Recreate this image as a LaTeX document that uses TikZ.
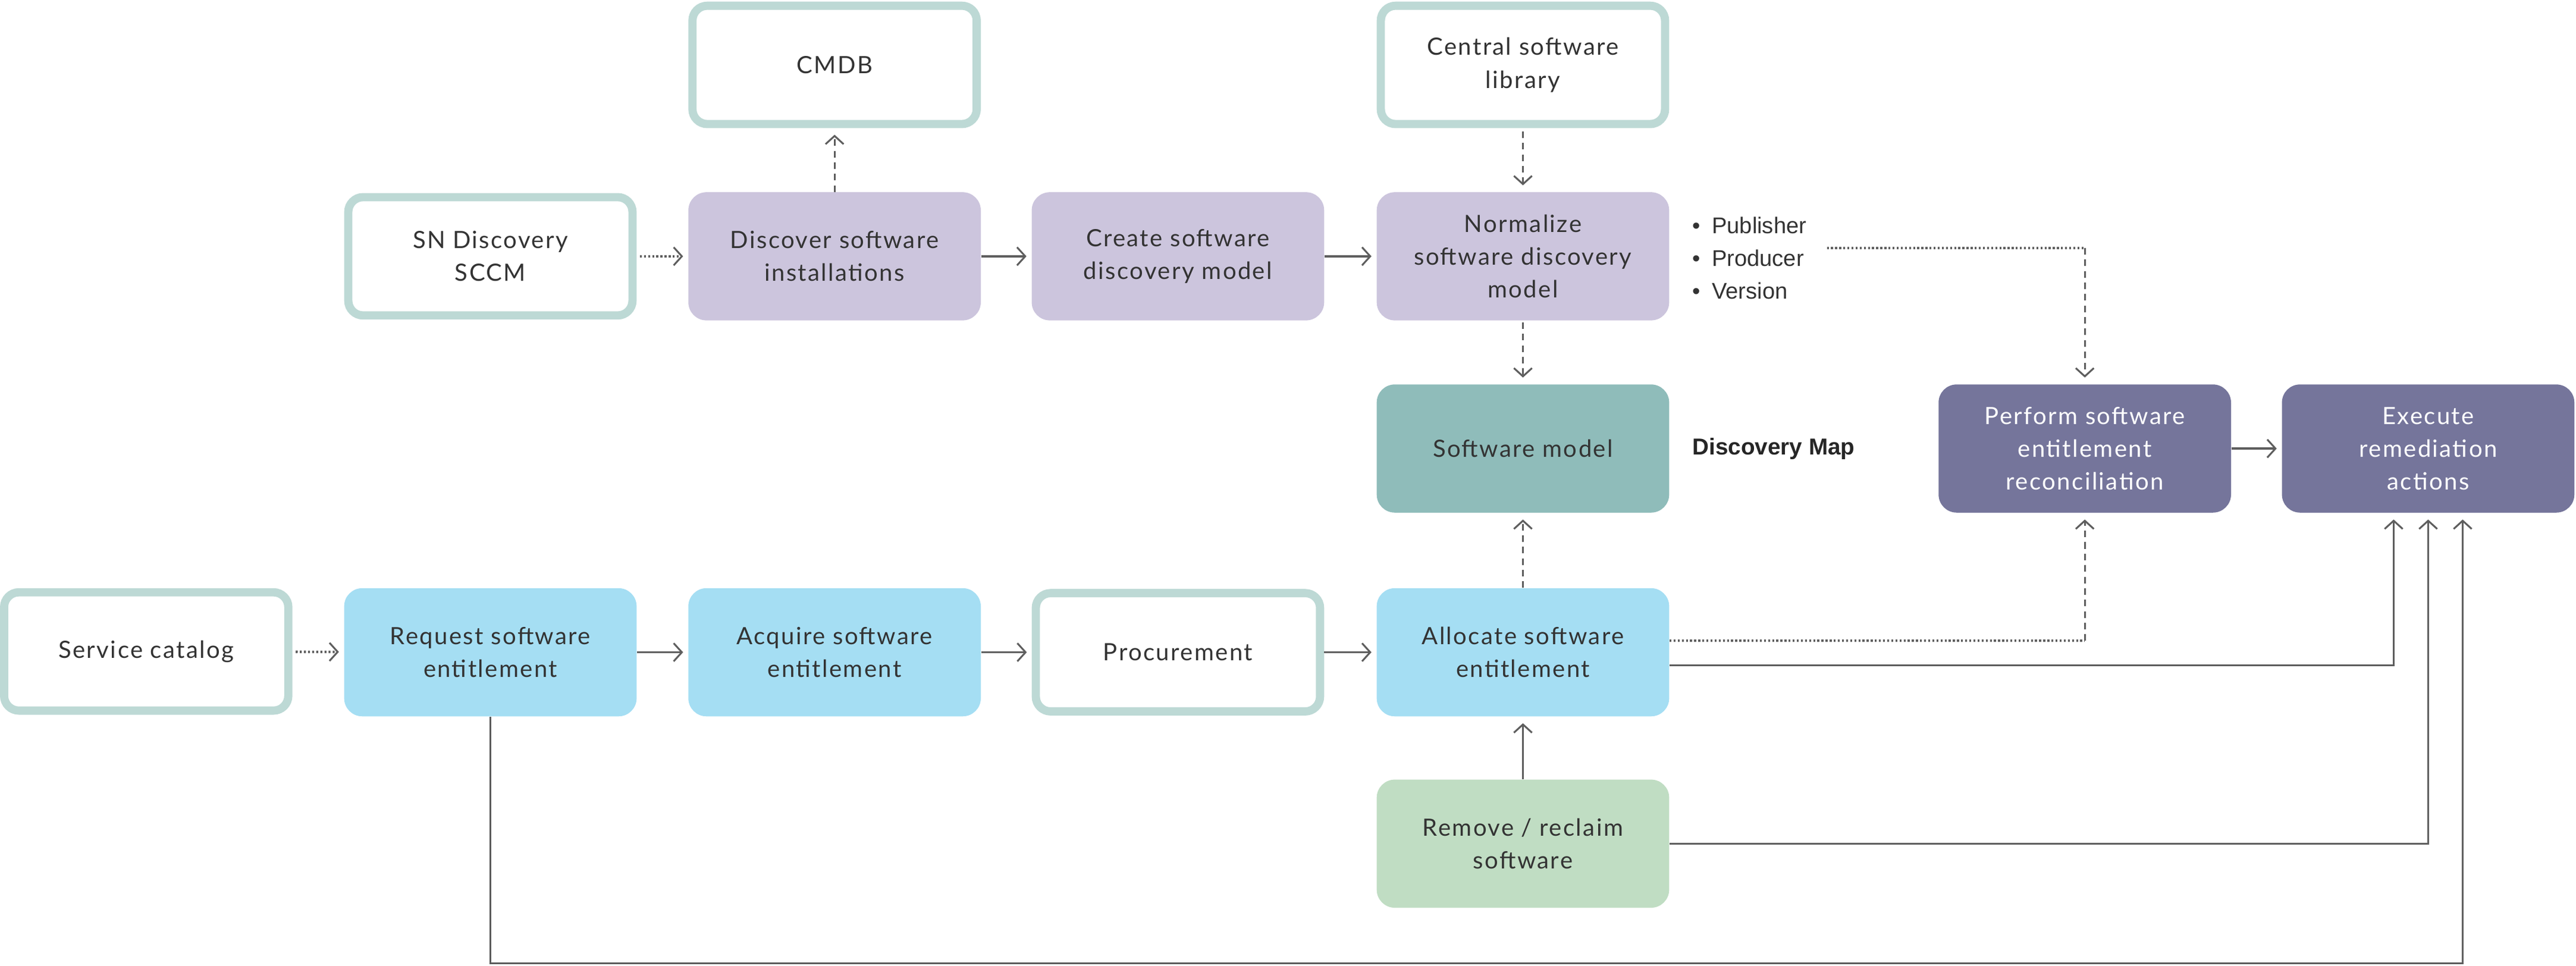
\documentclass[tikz,border=0pt]{standalone}
\usepackage{fontspec}
\setmainfont[LetterSpace=6]{Lato}
\newfontfamily\notefont{Liberation Sans}
\usetikzlibrary{arrows.meta}

\definecolor{edgeteal}{HTML}{BDD9D5}
\definecolor{discpurple}{HTML}{CCC5DD}
\definecolor{modelteal}{HTML}{8FBCBA}
\definecolor{reconpurple}{HTML}{75759B}
\definecolor{entblue}{HTML}{A5DEF3}
\definecolor{reclgreen}{HTML}{C0DDC3}
\definecolor{inkgray}{HTML}{333333}
\definecolor{linegray}{HTML}{5E5E5E}

\tikzset{
  boxtext/.style={align=center, inner sep=0pt, text=inkgray,
    font=\fontsize{14.5}{20}\selectfont},
  notetext/.style={inner sep=0pt, text=inkgray, anchor=west,
    font=\notefont\fontsize{13.8}{20}\selectfont},
  srcbox/.style={boxtext, draw=edgeteal, line width=5pt, fill=white,
    rounded corners=9pt, minimum width=173pt, minimum height=72pt},
  stepbox/.style={boxtext, rounded corners=11pt,
    minimum width=178pt, minimum height=78pt},
  flowtip/.style={-{Straight Barb[length=5pt,width=11pt,line width=1.1pt]}},
  solidline/.style={draw=linegray, line width=1.2pt},
  dotline/.style={draw=linegray, line width=1.5pt, dash pattern=on 1.2pt off 1.3pt},
  dashline/.style={draw=linegray, line width=1pt, dash pattern=on 4pt off 3pt},
}

\begin{document}
\begin{tikzpicture}[x=1pt,y=-1pt]
    \useasboundingbox (0,0) rectangle (1568,587.6);

    % Drawing sources (outlined boxes)
    \node [srcbox] (cmdb) at (508,39.5) {CMDB};
    \node [srcbox] (lib) at (927,39.5) {Central software\\library};
    \node [srcbox] (sn) at (298.5,156) {SN Discovery\\SCCM};
    \node [srcbox] (svc) at (89,396.5) {Service catalog};
    \node [srcbox] (proc) at (717,397) {Procurement};

    % Drawing discovery steps
    \node [stepbox, fill=discpurple] (disc) at (508,156) {Discover software\\installations};
    \node [stepbox, fill=discpurple] (create) at (717,156) {Create software\\discovery model};
    \node [stepbox, fill=discpurple] (norm) at (927,156) {Normalize\\software discovery\\model};
    \node [notetext, align=left] (bul) at (1030,157)
      {\textbullet\hspace{7pt}Publisher\\\textbullet\hspace{7pt}Producer\\\textbullet\hspace{7pt}Version};

    % Drawing software model and reconciliation
    \node [stepbox, fill=modelteal] (model) at (927,273) {Software model};
    \node [notetext, font=\notefont\fontsize{14}{20}\selectfont\bfseries, text=black!85] (map) at (1030,273) {Discovery Map};
    \node [stepbox, fill=reconpurple, text=white] (recon) at (1269,273) {Perform software\\entitlement\\reconciliation};
    \node [stepbox, fill=reconpurple, text=white] (exec) at (1478,273) {Execute\\remediation\\actions};

    % Drawing entitlement steps
    \node [stepbox, fill=entblue] (req) at (298.5,397) {Request software\\entitlement};
    \node [stepbox, fill=entblue] (acq) at (508,397) {Acquire software\\entitlement};
    \node [stepbox, fill=entblue] (alloc) at (927,397) {Allocate software\\entitlement};
    \node [stepbox, fill=reclgreen] (recl) at (927,513.5) {Remove / reclaim\\software};

    % Drawing top row connectors
    \draw [dotline, flowtip, shorten <=2pt, shorten >=3pt] (sn) -- (disc);
    \draw [dashline, flowtip, shorten >=4pt] (disc) -- (cmdb);
    \draw [solidline, flowtip, shorten >=3pt] (disc) -- (create);
    \draw [solidline, flowtip, shorten >=3pt] (create) -- (norm);
    \draw [dashline, flowtip, shorten <=2pt, shorten >=4pt] (lib) -- (norm);
    \draw [dashline, flowtip, shorten <=1pt, shorten >=4pt] (norm) -- (model);

    % Drawing attribute link to reconciliation
    \coordinate (attrstart) at (1112,151);
    \coordinate (attrbend) at (recon.north |- attrstart);
    \draw [dotline] (attrstart) -- (attrbend);
    \draw [dashline, flowtip, shorten >=4pt] (attrbend) -- (recon);
    \draw [solidline, flowtip, shorten >=3pt] (recon) -- (exec);

    % Drawing bottom row connectors
    \draw [dotline, flowtip, shorten <=2pt, shorten >=3pt] (svc) -- (req);
    \draw [solidline, flowtip, shorten >=3pt] (req) -- (acq);
    \draw [solidline, flowtip, shorten >=3pt] (acq) -- (proc);
    \draw [solidline, flowtip, shorten >=3pt] (proc) -- (alloc);
    \draw [dashline, flowtip, shorten >=4pt] (alloc) -- (model);
    \draw [solidline, flowtip, shorten >=4pt] (recl) -- (alloc);

    % Drawing allocation link to reconciliation
    \coordinate (allocbend) at (recon.south |- 0,390);
    \draw [dotline] (alloc.east |- allocbend) -- (allocbend);
    \draw [dashline, flowtip, shorten >=4pt] (allocbend) -- (recon);

    % Drawing links into remediation
    \draw [solidline, flowtip, shorten >=4pt] (alloc.east |- 0,405) -| ([xshift=-21pt]exec.south);
    \draw [solidline, flowtip, shorten >=4pt] (recl.east) -| (exec.south);
    \draw [solidline, flowtip, shorten >=4pt] (req.south) -- (req.south |- 0,586.2) -| ([xshift=21pt]exec.south);
\end{tikzpicture}
\end{document}
